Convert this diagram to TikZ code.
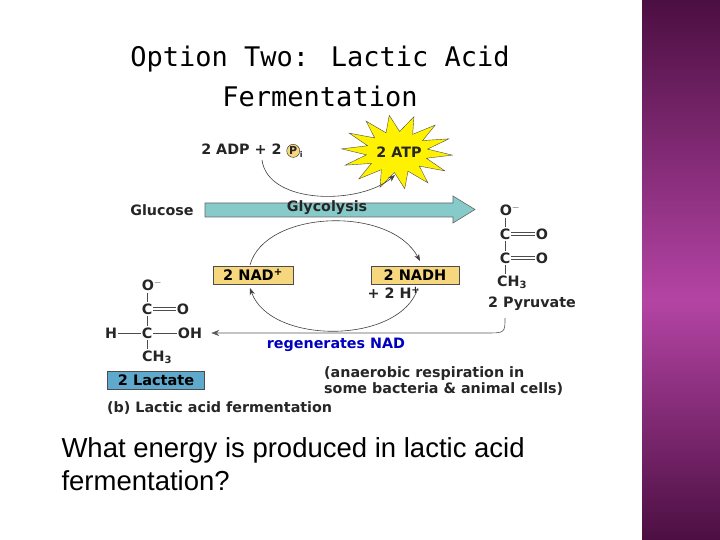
\documentclass[tikz,border=0pt]{standalone}
\usepackage{fontspec}
\setmainfont{Liberation Sans}
\newfontfamily\titlefont{DejaVu Sans Mono}
\newfontfamily\figfont{DejaVu Sans}
\usetikzlibrary{shapes.geometric,shapes.arrows,arrows.meta}
\definecolor{teal1}{HTML}{86CACA}
\definecolor{nadyel}{HTML}{F6D77E}
\definecolor{lacblue}{HTML}{5FA9CC}
\definecolor{purpA}{HTML}{4C0F42}
\definecolor{purpB}{HTML}{B444A4}
\tikzset{
 lbl/.style={font=\figfont\bfseries\fontsize{14.3}{16}\selectfont, inner sep=1pt, text=black!85},
 bx/.style={draw=black!70, line width=0.7pt, minimum height=18pt, inner sep=1pt, font=\figfont\bfseries\fontsize{14.5}{15}\selectfont},
 cyc/.style={draw=black!75, line width=0.6pt, -{Stealth[length=7pt]}},
 bond/.style={draw=black!70, line width=0.7pt},
}
\begin{document}
\begin{tikzpicture}[x=1pt,y=-1pt]
\useasboundingbox (0,0) rectangle (720,540);
\fill[white] (0,0) rectangle (720,540);
\shade[top color=purpA, bottom color=purpB] (642,0) rectangle (720,300);
\shade[top color=purpB, bottom color=purpA] (642,300) rectangle (720,540);
% title
\node[font=\titlefont\fontsize{27}{40}\selectfont, align=center] (title) at (320,76) {Option Two: Lactic Acid\\Fermentation};
% glycolysis arrow
\draw[draw=black!60, fill=teal1, line width=0.6pt] (205,203) -- (453,203) -- (453,196) -- (475,209.5) -- (453,223) -- (453,217) -- (205,217) -- cycle;
\node[lbl] (glytxt) at (327,208) {Glycolysis};
\node[lbl] (glc) at (162,210) {Glucose};
% ADP and ATP
\node[lbl] (adp) at (252,151) {2 ADP + 2 \tikz[baseline=(p.base)]\node[circle,draw,fill=nadyel,inner sep=0.6pt,font=\figfont\bfseries\fontsize{11}{11}\selectfont](p){P};\raisebox{-3pt}{\fontsize{8}{8}\selectfont i}};
\node[star, star points=14, star point ratio=1.8, draw=black!70, fill=yellow, minimum width=74pt, xscale=1.5, rotate=8] (atp) at (397,152) {};
\node[lbl] (atptxt) at (399,152) {2 ATP};
\draw[cyc] (262,160) .. controls (268,205) and (360,205) .. (395,175);
% NAD boxes
\node[bx, fill=nadyel, minimum width=80pt] (nad) at (253,275) {2 NAD\textsuperscript{+}};
\node[bx, fill=nadyel, minimum width=88pt] (nadh) at (415,275) {2 NADH};
\node[lbl] (h2) at (394,293) {+ 2 H\textsuperscript{+}};
\draw[cyc] (250,265) .. controls (265,210) and (390,205) .. (420,261);
\draw[cyc] (418,288) .. controls (400,345) and (270,345) .. (250,288);
% pyruvate
\node[lbl] (p1) at (510,210) {O\textsuperscript{$-$}};
\node[lbl] (p2) at (505,234) {C};
\node[lbl] (p2o) at (542,234) {O};
\node[lbl] (p3) at (505,258) {C};
\node[lbl] (p3o) at (542,258) {O};
\node[lbl] (p4) at (512,282) {CH\textsubscript{3}};
\node[lbl] (pyr) at (532,304) {2 Pyruvate};
\draw[bond] (505,218) -- (p2.north) (p2.south) -- (p3.north) (p3.south) -- (505,274);
\draw[bond] ([yshift=-1.5pt]p2.east) -- ([yshift=-1.5pt]p2o.west) ([yshift=1.5pt]p2.east) -- ([yshift=1.5pt]p2o.west);
\draw[bond] ([yshift=-1.5pt]p3.east) -- ([yshift=-1.5pt]p3o.west) ([yshift=1.5pt]p3.east) -- ([yshift=1.5pt]p3o.west);
% lactate
\node[lbl] (l1) at (152,285) {O\textsuperscript{$-$}};
\node[lbl] (l2) at (147,309) {C};
\node[lbl] (l2o) at (183,309) {O};
\node[lbl] (l3) at (147,333) {C};
\node[lbl] (lh) at (111,333) {H};
\node[lbl] (loh) at (190,333) {OH};
\node[lbl] (l4) at (157,357) {CH\textsubscript{3}};
\draw[bond] (147,293) -- (l2.north) (l2.south) -- (l3.north) (l3.south) -- (147,349) (lh.east) -- (l3.west) (l3.east) -- (loh.west);
\draw[bond] ([yshift=-1.5pt]l2.east) -- ([yshift=-1.5pt]l2o.west) ([yshift=1.5pt]l2.east) -- ([yshift=1.5pt]l2o.west);
\node[bx, fill=lacblue, minimum width=97pt] (lac) at (156,380) {2 Lactate};
% pyruvate to lactate
\draw[draw=black!65, line width=0.6pt, -{Stealth[length=8pt]}] (505,318) .. controls (505,333) .. (485,333) -- ([xshift=8pt]loh.east);
\node[lbl, text=blue!75!black] (regen) at (336,345) {regenerates NAD};
\node[lbl, align=left, anchor=west] (anae) at (323,381) {(anaerobic respiration in\\some bacteria \& animal cells)};
\node[lbl, anchor=west] (cap) at (106,408) {(b) Lactic acid fermentation};
% question
\node[font=\fontsize{27.5}{33}\selectfont, align=left, anchor=north west] (q) at (58,434) {What energy is produced in lactic acid\\fermentation?};
\end{tikzpicture}
\end{document}
